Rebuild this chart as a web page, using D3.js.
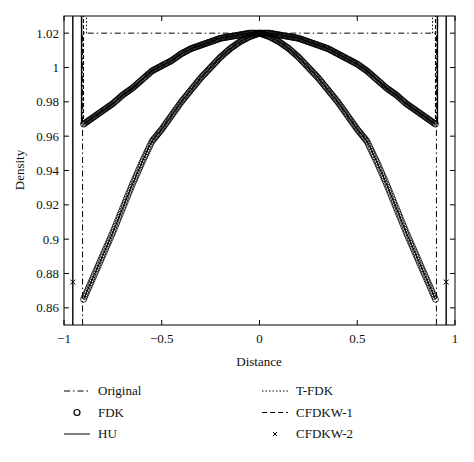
<!DOCTYPE html><html><head><meta charset="utf-8"><script src="https://cdn.jsdelivr.net/npm/d3@7"></script>
<style>body{margin:0;background:#fff}text{font-family:"Liberation Serif",serif;fill:#111}</style></head><body><svg id="c" width="474" height="462"></svg><script>
const xTicks=[-1,-0.5,0,0.5,1];
const yTicks=[0.86,0.88,0.9,0.92,0.94,0.96,0.98,1,1.02];
const lowX=[-0.9,-0.85,-0.8,-0.75,-0.7,-0.65,-0.6,-0.55,-0.5,-0.45,-0.4,-0.35,-0.3,-0.25,-0.2,-0.15,-0.1,-0.05,0,0.05,0.1,0.15,0.2,0.25,0.3,0.35,0.4,0.45,0.5,0.55,0.6,0.65,0.7,0.75,0.8,0.85,0.9];
const fdkLow=[0.865,0.878,0.891,0.904,0.918,0.932,0.945,0.957,0.964,0.972,0.98,0.987,0.994,1.0,1.006,1.011,1.015,1.018,1.02,1.018,1.015,1.011,1.006,1.0,0.994,0.987,0.98,0.972,0.964,0.957,0.945,0.932,0.918,0.904,0.891,0.878,0.865];
const huUp=[0.967,0.971,0.975,0.979,0.984,0.988,0.993,0.998,1.001,1.004,1.008,1.011,1.013,1.015,1.017,1.018,1.019,1.02,1.02,1.02,1.019,1.018,1.017,1.015,1.013,1.011,1.008,1.005,1.002,0.998,0.993,0.988,0.984,0.979,0.975,0.971,0.967];
const origX=[-0.905,-0.905,0.905,0.905], origY=[0.85,1.02,1.02,0.85];
const cfdk2X=[-0.955,0.955], cfdk2Y=[0.875,0.875];
const legend=[["Original","dashdot"],["T-FDK","dot"],["FDK","circle"],["CFDKW-1","dash"],["HU","solid"],["CFDKW-2","x"]];
const svg=d3.select("#c");
const x=d3.scaleLinear().domain([-1,1]).range([64,455]);
const y=d3.scaleLinear().domain([0.85,1.03]).range([325,16]);
const g=svg.append("g");
g.append("defs").append("clipPath").attr("id","cp").append("rect").attr("x",64).attr("y",16).attr("width",391).attr("height",309);
const P=g.append("g").attr("clip-path","url(#cp)");
const line=d3.line().x(d=>x(d[0])).y(d=>y(d[1])).curve(d3.curveMonotoneX);
const lin=d3.line().x(d=>x(d[0])).y(d=>y(d[1]));
function draw(pts,dash,w,smooth){return P.append("path").attr("d",(smooth?line:lin)(pts)).attr("fill","none").attr("stroke","#000").attr("stroke-width",w||1).attr("stroke-dasharray",dash);}
function dense(vals){const pts=[];for(let i=0;i<lowX.length-1;i++){for(let k=0;k<8;k++){const t=k/8;const a=lowX[i],b=lowX[i+1];const va=vals[i],vb=vals[i+1];pts.push([a+(b-a)*t,va+(vb-va)*t]);}}pts.push([lowX[lowX.length-1],vals[vals.length-1]]);return pts;}
const lowPts=dense(fdkLow), upPts=dense(huUp);
[lowPts,upPts].forEach(pts=>P.append("g").selectAll("circle").data(pts).join("circle").attr("cx",d=>x(d[0])).attr("cy",d=>y(d[1])).attr("r",3).attr("fill","none").attr("stroke","#000").attr("stroke-width",0.8));
draw(lowX.map((v,i)=>[v,fdkLow[i]]),null,1.2,true);
draw(lowX.map((v,i)=>[v,huUp[i]]),null,1.5,true);
[-0.91,0.91].forEach(v=>draw([[v,huUp[0]],[v,1.03]],null,1.5));
cfdk2X.forEach(v=>draw([[v,0.85],[v,1.03]],null,1.4));
draw(origX.map((v,i)=>[v,origY[i]]),"6,3,1.5,3",1);
[-0.885,0.885].forEach(v=>draw([[v,1.02],[v,1.03]],"1.5,2",1));
[-0.9,0.9].forEach(v=>draw([[v,0.97],[v,1.03]],"4,2",1));
cfdk2X.forEach((v,i)=>{const cx=x(v),cy=y(cfdk2Y[i]);g.append("path").attr("d",`M${cx-2.5},${cy-2.5}L${cx+2.5},${cy+2.5}M${cx-2.5},${cy+2.5}L${cx+2.5},${cy-2.5}`).attr("stroke","#000");});
g.append("rect").attr("x",64).attr("y",16).attr("width",391).attr("height",309).attr("fill","none").attr("stroke","#000");
xTicks.forEach(t=>{g.append("line").attr("x1",x(t)).attr("x2",x(t)).attr("y1",325).attr("y2",320).attr("stroke","#000");g.append("line").attr("x1",x(t)).attr("x2",x(t)).attr("y1",16).attr("y2",21).attr("stroke","#000");
g.append("text").attr("x",x(t)).attr("y",343).attr("text-anchor","middle").attr("font-size",13).text(t<0?"\u2212"+Math.abs(t):t);});
yTicks.forEach(t=>{g.append("line").attr("x1",64).attr("x2",69).attr("y1",y(t)).attr("y2",y(t)).attr("stroke","#000");g.append("line").attr("x1",455).attr("x2",450).attr("y1",y(t)).attr("y2",y(t)).attr("stroke","#000");
g.append("text").attr("x",59).attr("y",y(t)+4.5).attr("text-anchor","end").attr("font-size",13).text(t);});
g.append("text").attr("x",259).attr("y",366).attr("text-anchor","middle").attr("font-size",13).text("Distance");
g.append("text").attr("transform","translate(24,170) rotate(-90)").attr("text-anchor","middle").attr("font-size",13).text("Density");
legend.forEach((l,i)=>{const col=i%2,row=Math.floor(i/2);const sx=col?262:64,ty=395+row*21.5;const sy=ty-4;
const tx=col?296:98;
if(l[1]=="circle")g.append("circle").attr("cx",sx+13).attr("cy",sy).attr("r",3).attr("fill","none").attr("stroke","#000").attr("stroke-width",1.2);
else if(l[1]=="x")g.append("path").attr("d",`M${sx+11},${sy-2}L${sx+15},${sy+2}M${sx+11},${sy+2}L${sx+15},${sy-2}`).attr("stroke","#000");
else{const d={dashdot:"6,3,1.5,3",dot:"1.5,2",dash:"5,3",solid:null}[l[1]];g.append("line").attr("x1",sx).attr("x2",sx+26).attr("y1",sy).attr("y2",sy).attr("stroke","#000").attr("stroke-dasharray",d);}
g.append("text").attr("x",tx).attr("y",ty).attr("font-size",13).text(l[0]);});
</script></body></html>
